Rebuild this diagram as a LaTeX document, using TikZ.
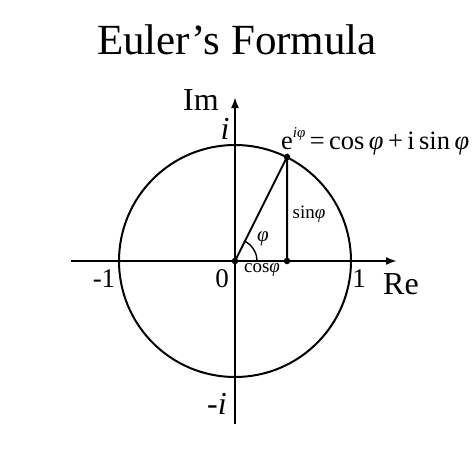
\documentclass[tikz,border=0pt]{standalone}
\usepackage{fontspec}
\setmainfont{Liberation Serif}
\usetikzlibrary{arrows.meta}
\newcommand{\vphi}{\textit{φ}}
\begin{document}
\begin{tikzpicture}[x=1pt,y=-1pt,
  axis/.style={line width=2pt,-{Latex[length=11pt,width=8pt]}},
  thick line/.style={line width=2pt},
  dotpt/.style={circle,fill=black,inner sep=0pt,minimum size=6.5pt},
  lbl/.style={inner sep=0pt,font=\fontsize{22}{24}\selectfont}]
\useasboundingbox (0,0) rectangle (474,474);
\node[inner sep=0pt,font=\fontsize{43}{45}\selectfont] (title) at (237,40) {Euler’s Formula};
\coordinate (O) at (235,261);
\coordinate (xl) at (71,261);
\coordinate (xr) at (397,261);
\coordinate (yb) at (235,424);
\coordinate (yt) at (235,97);
\draw[thick line] (O) circle[radius=116];
\draw[axis] (xl) -- (xr);
\draw[axis] (yb) -- (yt);
\coordinate (P) at (287,157);
\coordinate (Q) at (287,261);
\draw[thick line] (O) -- (P) -- (Q);
\draw[line width=1.4pt] ([shift={(0:22)}]O) arc[start angle=0,end angle=-63.4,radius=22];
\node[dotpt] (dO) at (O) {};
\node[dotpt] (dP) at (P) {};
\node[dotpt] (dQ) at (Q) {};
\node[lbl,font=\fontsize{32}{32}\selectfont] (im) at (201,100) {Im};
\node[lbl,font=\fontsize{32}{32}\selectfont] (re) at (401,284) {Re};
\node[lbl,font=\fontsize{32}{32}\selectfont] (i) at (225,129) {\textit{i}};
\node[lbl,font=\fontsize{32}{32}\selectfont] (mi) at (217,404) {-\textit{i}};
\node[lbl,font=\fontsize{27}{28}\selectfont] (m1) at (104,279) {-1};
\node[lbl,font=\fontsize{27}{28}\selectfont] (z) at (222,279) {0};
\node[lbl,font=\fontsize{27}{28}\selectfont] (one) at (359,279) {1};
\node[inner sep=0pt,anchor=west,font=\fontsize{26.5}{28}\selectfont] (eq) at (281,141) {e\raisebox{0.45em}{\fontsize{15}{15}\selectfont\textit{iφ}}\,=\,cos\,\vphi\,+\,i\,sin\,\vphi};
\node[inner sep=0pt,font=\fontsize{19}{20}\selectfont] (sin) at (309,214) {sin\vphi};
\node[inner sep=0pt,font=\fontsize{19}{20}\selectfont] (cos) at (262,270) {cos\vphi};
\node[inner sep=0pt,font=\fontsize{21}{22}\selectfont] (phi) at (263,239) {\vphi};
\end{tikzpicture}
\end{document}
